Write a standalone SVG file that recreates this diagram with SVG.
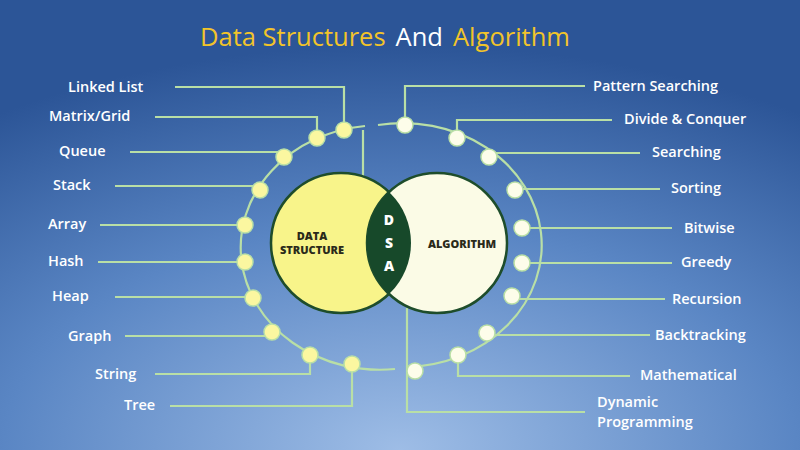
<svg xmlns="http://www.w3.org/2000/svg" width="800" height="450" viewBox="0 0 800 450">
<defs>
<radialGradient id="bg" cx="0.5" cy="1" r="0.9">
<stop offset="0" stop-color="#9ebde6"/><stop offset="0.55" stop-color="#5a86c4"/><stop offset="1" stop-color="#2c5597"/>
</radialGradient>
<clipPath id="lc"><circle cx="341" cy="243" r="70"/></clipPath>
</defs>
<style>
.l{font-family:"Open Sans","Liberation Sans",sans-serif;font-size:14.5px;font-weight:600;fill:#fff}
.w{fill:none;stroke:#b9dfa6;stroke-width:2.2}
.dl{fill:#fbf7a0;stroke:#b9dfa6;stroke-width:1.5}
.dr{fill:#fdfdea;stroke:#b9dfa6;stroke-width:1.5}
.t{font-family:"Open Sans","Liberation Sans",sans-serif;font-size:25.5px}
.c{font-family:"Open Sans","Liberation Sans",sans-serif;font-weight:800;font-size:11px;fill:#2a2a1a}
.s{font-family:"Open Sans","Liberation Sans",sans-serif;font-weight:800;font-size:14px;fill:#fff}
</style>
<rect width="800" height="450" fill="url(#bg)"/>
<text x="385" y="46" text-anchor="middle" class="t"><tspan fill="#f2c42a">Data Structures</tspan><tspan fill="#fff" dx="10">And</tspan><tspan fill="#f2c42a" dx="10">Algorithm</tspan></text>
<g id="connectors">
<path class="w" d="M365,126 A139,122 0 1 0 395,369"/>
<path class="w" d="M378,125 A139,122 0 1 1 407,367"/>
<path class="w" d="M175,87 H344 V130 M155,117 H317 V138 M130,152 H280 M115,186 H258 M100,225 H245 M98,262 H245 M115,297 H253 M125,336 H270 M155,374 H310 V355 M170,406 H352 V364"/>
<path class="w" d="M363,130 V178 M407,308 V412 H585"/>
<path class="w" d="M585,86 H405 V125 M612,120 H457 V138 M640,153 H489 M660,189 H515 M672,228 H522 M672,263 H522 M665,299 H512 M650,335 H487 M630,376 H458 V355"/>
</g>
<g id="venn">
<circle cx="341" cy="243" r="70" fill="#f8f48a" stroke="#1e4d2b" stroke-width="2.5"/>
<circle cx="437" cy="243" r="70" fill="#fbfbe6" stroke="#1e4d2b" stroke-width="2.5"/>
<circle cx="437" cy="243" r="70" fill="#17492a" clip-path="url(#lc)"/>
<text x="312" y="240" text-anchor="middle" class="c">DATA</text>
<text x="312" y="254" text-anchor="middle" class="c">STRUCTURE</text>
<text x="462" y="248" text-anchor="middle" class="c">ALGORITHM</text>
<text x="389" y="225" text-anchor="middle" class="s">D</text>
<text x="389" y="248" text-anchor="middle" class="s">S</text>
<text x="389" y="271" text-anchor="middle" class="s">A</text>
</g>
<g id="dots-left">
<circle class="dl" cx="344" cy="130" r="8"/><circle class="dl" cx="317" cy="138" r="8"/><circle class="dl" cx="284" cy="157" r="8"/><circle class="dl" cx="260" cy="190" r="8"/><circle class="dl" cx="245" cy="225" r="8"/><circle class="dl" cx="245" cy="262" r="8"/><circle class="dl" cx="253" cy="298" r="8"/><circle class="dl" cx="272" cy="332" r="8"/><circle class="dl" cx="310" cy="355" r="8"/><circle class="dl" cx="352" cy="364" r="8"/>
</g>
<g id="dots-right">
<circle class="dr" cx="405" cy="125" r="8"/><circle class="dr" cx="457" cy="138" r="8"/><circle class="dr" cx="489" cy="157" r="8"/><circle class="dr" cx="515" cy="190" r="8"/><circle class="dr" cx="522" cy="228" r="8"/><circle class="dr" cx="522" cy="263" r="8"/><circle class="dr" cx="512" cy="296" r="8"/><circle class="dr" cx="487" cy="333" r="8"/><circle class="dr" cx="458" cy="355" r="8"/><circle class="dr" cx="415" cy="371" r="8"/>
</g>
<g id="labels-left">
<text class="l" x="68" y="92">Linked List</text>
<text class="l" x="49" y="121">Matrix/Grid</text>
<text class="l" x="59" y="156">Queue</text>
<text class="l" x="53" y="190">Stack</text>
<text class="l" x="48" y="229">Array</text>
<text class="l" x="48" y="266">Hash</text>
<text class="l" x="52" y="301">Heap</text>
<text class="l" x="68" y="341">Graph</text>
<text class="l" x="95" y="379">String</text>
<text class="l" x="124" y="410">Tree</text>
</g>
<g id="labels-right">
<text class="l" x="593" y="91">Pattern Searching</text>
<text class="l" x="624" y="124">Divide &amp; Conquer</text>
<text class="l" x="652" y="157">Searching</text>
<text class="l" x="671" y="193">Sorting</text>
<text class="l" x="684" y="233">Bitwise</text>
<text class="l" x="681" y="267">Greedy</text>
<text class="l" x="672" y="304">Recursion</text>
<text class="l" x="655" y="340">Backtracking</text>
<text class="l" x="640" y="380">Mathematical</text>
<text class="l" x="597" y="407">Dynamic</text>
<text class="l" x="597" y="427">Programming</text>
</g>
</svg>
